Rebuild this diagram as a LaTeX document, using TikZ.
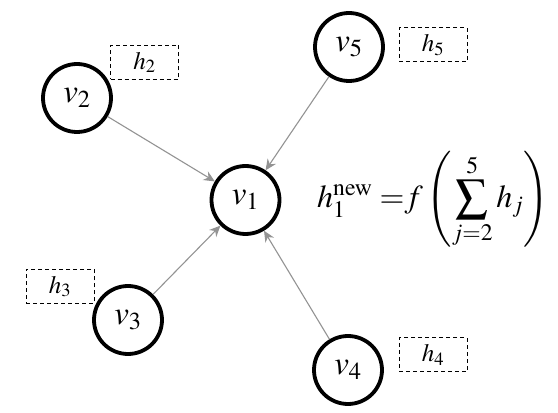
\documentclass[tikz,border=0pt]{standalone}
\usepackage{mathptmx}
\usetikzlibrary{arrows.meta}
\begin{document}
\begin{tikzpicture}[x=1pt,y=1pt,
  vnode/.style={circle,draw=black,line width=3.8pt,minimum size=68pt,inner sep=0pt,font=\fontsize{33}{40}\selectfont},
  hbox/.style={draw=black,dash pattern=on 4pt off 3pt,line width=1pt,minimum width=68pt,minimum height=34pt,inner sep=0pt,font=\fontsize{25}{29}\selectfont},
  edge/.style={draw=gray!85,line width=1.1pt,-{Stealth[length=11pt,width=10pt]}}]
\useasboundingbox (0,0) rectangle (558,413);
\node[vnode] (v1) at (245.5,213) {$v_1$};
\node[vnode] (v2) at (77,315) {$v_2$};
\node[vnode] (v3) at (128,93) {$v_3$};
\node[vnode] (v4) at (348,43) {$v_4$};
\node[vnode] (v5) at (349,366) {$v_5$};
\node[hbox] (h2) at (144.5,350.5) {$h_2$};
\node[hbox] (h3) at (60,126.5) {$h_3$};
\node[hbox] (h4) at (433,58) {$h_4$};
\node[hbox] (h5) at (433,368) {$h_5$};
\node[inner sep=0pt,font=\fontsize{32}{38}\selectfont] (eq) at (433,213)
  {$h_1^{\mathrm{new}}\;{=}f\left(\displaystyle\sum_{j=2}^{5}h_j\right)$};
\draw[edge] (v2) -- (v1);
\draw[edge] (v3) -- (v1);
\draw[edge] (v4) -- (v1);
\draw[edge] (v5) -- (v1);
\end{tikzpicture}
\end{document}
